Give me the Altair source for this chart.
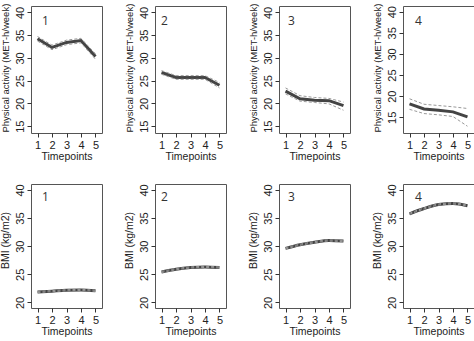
import altair as alt
import pandas as pd

# ---------------- data ----------------
timepoints = [1, 2, 3, 4, 5]
panel_labels = ["1", "2", "3", "4"]

pa_mean = [
    [34.2, 32.3, 33.4, 33.8, 30.3],
    [26.8, 25.7, 25.7, 25.7, 24.0],
    [22.7, 21.0, 20.7, 20.6, 19.5],
    [18.2, 17.0, 16.7, 16.3, 15.1],
]
pa_upper = [
    [34.7, 32.8, 33.9, 34.3, 30.9],
    [27.2, 26.1, 26.1, 26.1, 24.6],
    [23.4, 21.7, 21.3, 21.1, 20.3],
    [19.4, 18.1, 17.8, 17.5, 17.1],
]
pa_lower = [
    [33.7, 31.8, 32.9, 33.3, 29.7],
    [26.4, 25.3, 25.3, 25.3, 23.4],
    [22.1, 20.5, 20.2, 19.9, 18.5],
    [16.9, 15.9, 15.6, 15.2, 12.9],
]

bmi_mean = [
    [21.85, 22.0, 22.15, 22.2, 22.05],
    [25.4, 25.9, 26.2, 26.3, 26.2],
    [29.6, 30.25, 30.7, 31.0, 30.9],
    [35.75, 36.7, 37.4, 37.6, 37.2],
]
bmi_upper = [
    [21.95, 22.1, 22.25, 22.3, 22.15],
    [25.5, 26.0, 26.3, 26.4, 26.3],
    [29.7, 30.35, 30.8, 31.1, 31.0],
    [35.85, 36.8, 37.5, 37.7, 37.3],
]
bmi_lower = [
    [21.75, 21.9, 22.05, 22.1, 21.95],
    [25.3, 25.8, 26.1, 26.2, 26.1],
    [29.5, 30.15, 30.6, 30.9, 30.8],
    [35.65, 36.6, 37.3, 37.5, 37.1],
]

pa_ticks = [15, 20, 25, 30, 35, 40]
bmi_ticks = [20, 25, 30, 35, 40]
pa_domains = [[13.5, 41.4], [13.5, 41.4], [13.5, 41.4], [11.3, 41.35]]
bmi_domain = [19.0, 41.06]
x_domain = [0.55, 5.45]

pa_title = "Physical activity (MET-h/week)"
bmi_title = "BMI (kg/m2)"
x_title = "Timepoints"

# ---------------- styling ----------------
FONT = "Liberation Sans"
PANEL_W = 71
TOP_H = 127
BOT_H = 124
label_x_offsets = [11, 6, 9, 12]


def make_panel(mean, upper, lower, ydom, yticks, ytitle, label, height,
               interp, title_y, title_align, title_size, label_x, label_y):
    df = pd.DataFrame({
        "t": timepoints * 3,
        "v": list(mean) + list(upper) + list(lower),
        "s": ["mean"] * 5 + ["upper"] * 5 + ["lower"] * 5,
    })
    base = alt.Chart(df).encode(
        x=alt.X(
            "t:Q",
            scale=alt.Scale(domain=x_domain, nice=False, zero=False),
            axis=alt.Axis(values=timepoints, format="d", title=x_title),
        ),
        y=alt.Y(
            "v:Q",
            scale=alt.Scale(domain=ydom, nice=False, zero=False),
            axis=alt.Axis(values=yticks, format="d", title=ytitle,
                          titleX=-21, titleY=title_y, titleAlign=title_align,
                          titleBaseline="bottom", titleAngle=270,
                          titleFontSize=title_size),
        ),
    )
    mean_line = base.transform_filter(alt.datum.s == "mean").mark_line(
        color="#444444", strokeWidth=3, interpolate=interp
    )
    ci_lines = base.transform_filter(alt.datum.s != "mean").mark_line(
        color="#9a9a9a", strokeWidth=1, strokeDash=[3, 2], interpolate=interp
    ).encode(detail="s:N")
    lab = alt.Chart(pd.DataFrame({"lab": [label]})).mark_text(
        align="left", baseline="middle", fontSize=12, font="Open Sans",
        color="#333333"
    ).encode(x=alt.value(label_x), y=alt.value(label_y), text="lab:N")
    return alt.layer(mean_line, ci_lines, lab).properties(width=PANEL_W, height=height)


charts = []
for i in range(4):
    charts.append(make_panel(pa_mean[i], pa_upper[i], pa_lower[i], pa_domains[i],
                             pa_ticks, pa_title, panel_labels[i], TOP_H,
                             "linear", TOP_H - 1, "left", 9.5,
                             label_x_offsets[i], 15))
for i in range(4):
    charts.append(make_panel(bmi_mean[i], bmi_upper[i], bmi_lower[i], bmi_domain,
                             bmi_ticks, bmi_title, panel_labels[i], BOT_H,
                             "monotone", 56, "center", 10.5,
                             label_x_offsets[i], 13))

chart = alt.concat(
    *charts, columns=4, spacing={"row": 51, "column": 53}, bounds="flush"
).properties(
    autosize=alt.AutoSizeParams(type="none"),
    padding={"left": 31, "top": 6, "right": 443, "bottom": 335},
).configure_view(
    stroke="#555555", strokeWidth=1
).configure_axis(
    grid=False, domain=False, ticks=True, tickSize=4, tickColor="#333333",
    tickWidth=1, labelFont=FONT, titleFont=FONT, labelFontSize=11,
    titleFontSize=10.5, titleFontWeight="normal", labelColor="#222222",
    titleColor="#222222", labelPadding=2, labelFlush=False,
    labelOverlap=False, labelBound=False,
).configure_axisX(
    titlePadding=1
).configure_axisY(
    labelAngle=270, labelAlign="center", labelBaseline="bottom"
)

chart.save("out.html", embed_options={"renderer": "svg", "actions": False})
